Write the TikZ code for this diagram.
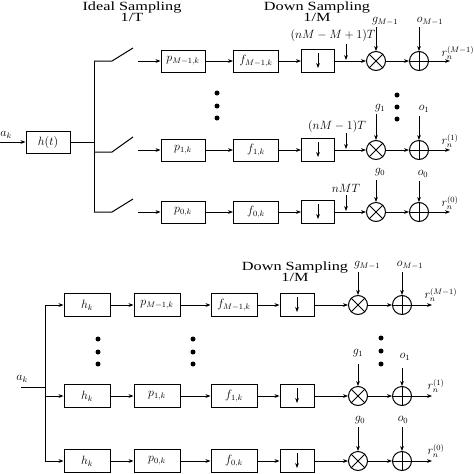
\documentclass[tikz,border=0pt]{standalone}
\usepackage{graphicx}
\usepackage{fontspec}
\setmainfont{Liberation Serif}
\usetikzlibrary{arrows.meta}
\newcommand{\widetxt}[1]{\scalebox{1.3}[1]{#1}}
\begin{document}
\begin{tikzpicture}[x=1pt,y=-1pt,line width=1pt,
  >={Stealth[length=5pt,width=3.8pt]},
  blk/.style={draw,minimum height=22pt,inner sep=0pt,font=\fontsize{11.5}{13}\selectfont},
  circ/.style={draw,circle,minimum size=19pt,inner sep=0pt},
  lbl/.style={inner sep=0pt,font=\fontsize{11.5}{13}\selectfont},
  ttl/.style={inner sep=0pt,align=center,font=\fontsize{12.5}{11}\selectfont},
  dot/.style={circle,fill,inner sep=0pt,minimum size=5pt}]
\useasboundingbox (0,0) rectangle (474,474);
% ================= TOP DIAGRAM =================
\node[ttl] (t1) at (132,12) {\widetxt{Ideal Sampling}\\\widetxt{1/T}};
\node[ttl] (t2) at (317,12) {\widetxt{Down Sampling}\\\widetxt{1/M}};
\node[lbl] (ak) at (6,135) {$a_k$};
\coordinate (ain) at (0,142);
\node[blk,minimum width=44pt] (h) at (48,142) {$h(t)$};
\coordinate (jt) at (94,142);
\draw[->] (ain) -- (h);
\draw (h) -- (jt);
\coordinate (bt2) at (94,61);
\coordinate (bt1) at (94,152);
\coordinate (bt0) at (94,212);
\draw (bt2) -- (bt0);
\foreach \r/\y/\s in {2/61/{M-1},1/150/1,0/212/0}{
  \coordinate (sa\r) at (112,\y);
  \coordinate (sb\r) at (133,\y-13);
  \coordinate (sc\r) at (138,\y);
  \node[blk,minimum width=44pt] (p\r) at (183,\y) {$p_{\s,k}$};
  \node[blk,minimum width=45pt] (f\r) at (256,\y) {$f_{\s,k}$};
  \node[blk,minimum width=33pt,minimum height=23pt] (d\r) at (318,\y) {};
  \coordinate (dt\r) at (318,\y-8);
  \coordinate (db\r) at (318,\y+7);
  \node[circ] (m\r) at (376,\y) {};
  \node[circ] (s\r) at (419,\y) {};
  \coordinate (out\r) at (450,\y);
  \coordinate (tp\r) at (346,\y-17);
  \coordinate (tq\r) at (346,\y-1);
  \draw[->] (sc\r) -- (p\r);
  \draw[->] (p\r) -- (f\r);
  \draw[->] (f\r) -- (d\r);
  \draw[->] (dt\r) -- (db\r);
  \draw[->] (d\r) -- (m\r);
  \draw[->] (m\r) -- (s\r);
  \draw[->] (s\r) -- (out\r);
  \draw[->] (tp\r) -- (tq\r);
  \draw (m\r.45) -- (m\r.225) (m\r.135) -- (m\r.315);
  \draw (s\r.north) -- (s\r.south) (s\r.east) -- (s\r.west);
}
\draw (bt2) -- (sa2) -- (sb2);
\draw (bt1) -- ([yshift=-2pt]sa1) -- (sb1);
\draw (bt0) -- (sa0) -- (sb0);
% labels top
\node[lbl] (tl2) at (333,35) {$(nM-M+1)T$};
\node[lbl] (tl1) at (337,126) {$(nM-1)T$};
\node[lbl] (tl0) at (346,188) {$nMT$};
\node[lbl] (g2) at (385,21) {$g_{M-1}$};
\node[lbl] (g1) at (380,108) {$g_1$};
\node[lbl] (g0) at (380,172) {$g_0$};
\node[lbl] (o2) at (430,21) {$o_{M-1}$};
\node[lbl] (o1) at (424,109) {$o_1$};
\node[lbl] (o0) at (423,174) {$o_0$};
\coordinate (gs2) at (376,27); \coordinate (os2) at (419,27);
\coordinate (gs1) at (376,114); \coordinate (os1) at (419,116);
\coordinate (gs0) at (376,180); \coordinate (os0) at (419,181);
\foreach \r in {2,1,0}{
  \draw[->] (gs\r) -- (m\r);
  \draw[->] (os\r) -- (s\r);
}
\node[lbl,anchor=south west] (r2) at (441,60) {$r_n^{(M-1)}$};
\node[lbl,anchor=south west] (r1) at (441,148) {$r_n^{(1)}$};
\node[lbl,anchor=south west] (r0) at (441,210) {$r_n^{(0)}$};
\foreach \yy [count=\i] in {93,106,118}{
  \node[dot] (da\i) at (217,\yy) {};
}
\foreach \yy [count=\i] in {95,107,119}{
  \node[dot] (db\i) at (397,\yy) {};
}
% ================= BOTTOM DIAGRAM =================
\node[ttl] (t3) at (295,272) {\widetxt{Down Sampling}\\\widetxt{1/M}};
\node[lbl] (bk) at (22,379) {$a_k$};
\coordinate (bin) at (21,387);
\coordinate (jb) at (45,387);
\draw (bin) -- (jb);
\coordinate (bb2) at (45,305);
\coordinate (bb0) at (45,461);
\draw (bb2) -- (bb0);
\foreach \r/\y/\s in {2/305/{M-1},1/396/1,0/461/0}{
  \coordinate (bb\r) at (45,\y);
  \node[blk,minimum width=46pt,minimum height=23pt] (H\r) at (87,\y) {$h_k$};
  \node[blk,minimum width=46pt,minimum height=23pt] (P\r) at (157,\y) {$p_{\s,k}$};
  \node[blk,minimum width=46pt,minimum height=23pt] (F\r) at (234,\y) {$f_{\s,k}$};
  \node[blk,minimum width=34pt,minimum height=23pt] (D\r) at (297,\y) {};
  \coordinate (Dt\r) at (297,\y-8);
  \coordinate (Db\r) at (297,\y+7);
  \node[circ] (M\r) at (358,\y) {};
  \node[circ] (S\r) at (402,\y) {};
  \coordinate (Out\r) at (432,\y);
  \draw[->] (bb\r) -- (H\r);
  \draw[->] (H\r) -- (P\r);
  \draw[->] (P\r) -- (F\r);
  \draw[->] (F\r) -- (D\r);
  \draw[->] (Dt\r) -- (Db\r);
  \draw[->] (D\r) -- (M\r);
  \draw[->] (M\r) -- (S\r);
  \draw[->] (S\r) -- (Out\r);
  \draw (M\r.45) -- (M\r.225) (M\r.135) -- (M\r.315);
  \draw (S\r.north) -- (S\r.south) (S\r.east) -- (S\r.west);
}
\node[lbl] (G2) at (367,265) {$g_{M-1}$};
\node[lbl] (G1) at (358,353) {$g_1$};
\node[lbl] (G0) at (360,420) {$g_0$};
\node[lbl] (O2) at (410,265) {$o_{M-1}$};
\node[lbl] (O1) at (405,357) {$o_1$};
\node[lbl] (O0) at (403,420) {$o_0$};
\coordinate (Gs2) at (358,272); \coordinate (Os2) at (402,272);
\coordinate (Gs1) at (358,364); \coordinate (Os1) at (402,368);
\coordinate (Gs0) at (358,427); \coordinate (Os0) at (402,427);
\foreach \r in {2,1,0}{
  \draw[->] (Gs\r) -- (M\r);
  \draw[->] (Os\r) -- (S\r);
}
\node[lbl,anchor=south west] (R2) at (424,302) {$r_n^{(M-1)}$};
\node[lbl,anchor=south west] (R1) at (427,393) {$r_n^{(1)}$};
\node[lbl,anchor=south west] (R0) at (427,458) {$r_n^{(0)}$};
\foreach \yy [count=\i] in {339,352,364}{
  \node[dot] (ea\i) at (98,\yy) {};
  \node[dot] (eb\i) at (193,\yy) {};
}
\foreach \yy [count=\i] in {338,351,364}{
  \node[dot] (ec\i) at (381,\yy) {};
}
\end{tikzpicture}
\end{document}
